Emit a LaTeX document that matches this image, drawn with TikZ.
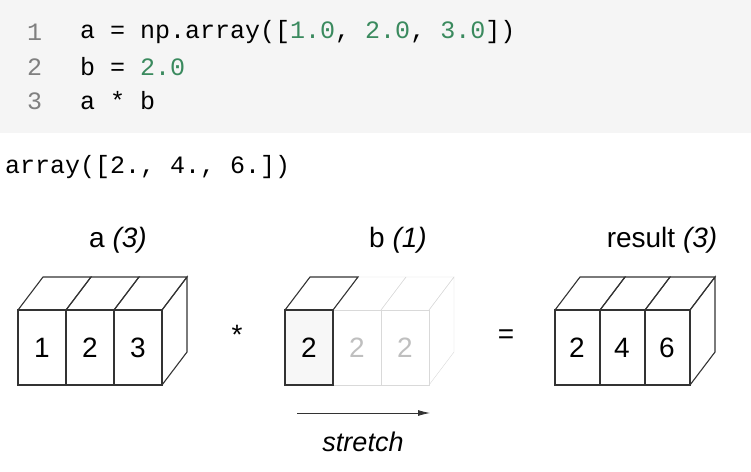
\documentclass[tikz,border=0pt]{standalone}
\usepackage{fontspec}
\usetikzlibrary{arrows.meta}
\setmainfont{Liberation Sans}
\setmonofont{Liberation Mono}
\definecolor{codegreen}{HTML}{3A8A5E}
\definecolor{codebg}{HTML}{F5F5F5}
\begin{document}
\begin{tikzpicture}[x=1pt,y=-1pt,
  code/.style={anchor=west,font=\ttfamily\fontsize{25}{25}\selectfont,inner sep=0},
  lnum/.style={anchor=west,font=\ttfamily\fontsize{25}{25}\selectfont,text=gray,inner sep=0},
  lbl/.style={font=\fontsize{28}{28}\selectfont},
  num/.style={font=\fontsize{28}{28}\selectfont},
  edge/.style={draw=black!80,line width=1.1pt},
  faint/.style={draw=black!15}]
\useasboundingbox (0,0) rectangle (751,471);
\fill[codebg] (0,0) rectangle (751,133);
\node[lnum] (n1) at (27,32) {1};
\node[lnum] (n2) at (27,67) {2};
\node[lnum] (n3) at (27,101) {3};
\node[code] (c1) at (80,32) {a = np.array([\textcolor{codegreen}{1.0}, \textcolor{codegreen}{2.0}, \textcolor{codegreen}{3.0}])};
\node[code] (c2) at (80,67) {b = \textcolor{codegreen}{2.0}};
\node[code] (c3) at (80,101) {a * b};
\node[code] (out) at (5,167) {array([2., 4., 6.])};
% left cube
\foreach \i/\t in {0/1,1/2,2/3}{
  \draw[edge] (18+48*\i,310) rectangle (66+48*\i,385);
  \node[num] at (42+48*\i,348) {\t};
  \draw[edge] (18+48*\i,310) -- (43+48*\i,277) -- (91+48*\i,277) -- (66+48*\i,310);
}
\draw[edge] (162,310) -- (187,277) -- (187,352) -- (162,385);
% middle cube
\foreach \i in {1,2}{
  \draw[faint] (285+48*\i,310) rectangle (333+48*\i,385);
  \node[num,text=black!25] at (309+48*\i,348) {2};
  \draw[faint] (285+48*\i,310) -- (310+48*\i,277) -- (358+48*\i,277) -- (333+48*\i,310);
}
\draw[faint] (429,310) -- (454,277) -- (454,352) -- (429,385);
\draw[edge,fill=black!3] (285,310) rectangle (333,385);
\node[num] at (309,348) {2};
\draw[edge] (285,310) -- (310,277) -- (358,277) -- (333,310);
% result cube
\foreach \i/\t in {0/2,1/4,2/6}{
  \draw[edge] (555+45*\i,310) rectangle (600+45*\i,385);
  \node[num] at (577+45*\i,348) {\t};
  \draw[edge] (555+45*\i,310) -- (580+45*\i,277) -- (625+45*\i,277) -- (600+45*\i,310);
}
\draw[edge] (690,310) -- (715,277) -- (715,352) -- (690,385);
% labels
\node[lbl] (la) at (118,240) {a \textit{(3)}};
\node[lbl] (lb) at (398,240) {b \textit{(1)}};
\node[lbl] (lr) at (662,240) {result \textit{(3)}};
\node[num] (times) at (237,335) {*};
\node[num] (eq) at (506,337) {=};
\coordinate (s0) at (297,413);
\coordinate (s1) at (430,413);
\draw[-{Latex[length=12pt,width=6pt]},black!80,line width=0.8pt] (s0) -- (s1);
\node[lbl,font=\itshape\fontsize{27}{27}\selectfont] (st) at (363,442) {stretch};
\end{tikzpicture}
\end{document}
